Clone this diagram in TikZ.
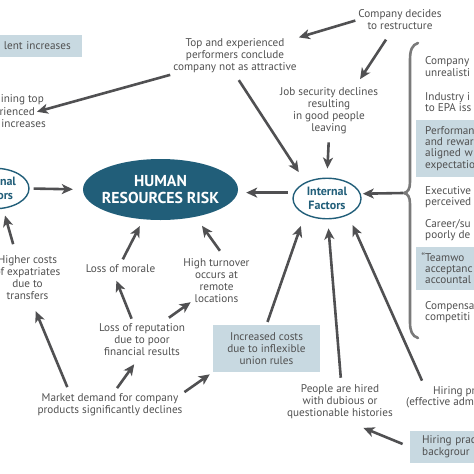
\documentclass[tikz,border=0pt]{standalone}
\usepackage{fontspec}
\setmainfont{PT Sans}
\usetikzlibrary{arrows.meta,calc,shapes.geometric}
\definecolor{txtgrey}{HTML}{505050}
\definecolor{arrgrey}{HTML}{505052}
\definecolor{boxblue}{HTML}{C8D9E1}
\definecolor{hrteal}{HTML}{215E79}
\definecolor{bracegrey}{HTML}{7A7A7A}
\tikzset{
  txt/.style={font=\fontsize{11.2}{12}\selectfont, text=txtgrey, inner sep=1pt, align=center},
  rtxt/.style={font=\fontsize{11.2}{11.2}\selectfont, text=txtgrey, inner sep=1pt, align=left, anchor=west},
  boxn/.style={txt, fill=boxblue},
  rbox/.style={rtxt, fill=boxblue, inner xsep=9pt, text width=70pt},
  ellnode/.style={ellipse, draw=hrteal, line width=1.4pt, fill=white, inner sep=0pt, minimum width=68pt, minimum height=40.5pt},
  elltxt/.style={font=\bfseries\fontsize{12}{13.3}\selectfont, text=hrteal, align=center, inner sep=0pt},
  hrell/.style={ellipse, fill=hrteal, inner sep=0pt, minimum width=155pt, minimum height=61pt},
  hrtxt/.style={font=\bfseries\fontsize{15.8}{16.5}\selectfont, text=white, align=center, inner sep=0pt},
  arr/.style={draw=arrgrey, line width=2.6pt, -{Stealth[length=11pt,width=10pt,inset=3pt]}},
  bracestyle/.style={draw=bracegrey, line width=2.6pt, line cap=round}
}
\begin{document}
\begin{tikzpicture}[x=1pt,y=-1pt]
\useasboundingbox (0,0) rectangle (474,474);
\clip (0,0) rectangle (474,474);

% left top
\node[boxn, text width=75pt, align=right, inner xsep=11pt, anchor=east, minimum height=22pt] (talent) at (82,46) {lent increases};
\node[txt, anchor=east] (ret1) at (45,100) {ining top};
\node[txt, anchor=east] (ret2) at (36,112) {rienced};
\node[txt, anchor=east] (ret3) at (47,124) {increases};

\node[txt] (top) at (235,56) {Top and experienced\\performers conclude\\company not as attractive};
\node[txt] (comp) at (400,20) {Company decides\\to restructure};
\node[txt] (job) at (329,111) {Job security declines\\resulting\\in good people\\leaving};

% ellipses
\node[ellnode, label={[elltxt]center:{Internal\\Factors}}] (int) at (327,198.5) {};
\node[ellnode, minimum width=69pt, label={[elltxt]center:{External\\Factors}}] (ext) at (-5.5,188.5) {};
\node[hrell, label={[hrtxt]center:{HUMAN\\RESOURCES RISK}}] (hr) at (160.5,189.5) {};

% lower left
\node[txt] (higher) at (27.5,278) {Higher costs\\of expatriates\\due to\\transfers};
\node[txt] (morale) at (120.5,269) {Loss of morale};
\node[txt] (turn) at (216.5,281) {High turnover\\occurs at\\remote\\locations};
\node[txt] (rep) at (142,340) {Loss of reputation\\due to poor\\financial results};
\node[txt] (market) at (110,405) {Market demand for company\\products significantly declines};
\node[boxn, minimum width=107pt, minimum height=47pt] (inc) at (266.5,348.5) {Increased costs\\due to inflexible\\union rules};
\node[txt] (people) at (340,402) {People are hired\\with dubious or\\questionable histories};
\node[txt, anchor=west] (hir1) at (432,392) {Hiring pr};
\node[txt, anchor=west] (hir2) at (405,403) {(effective adm};
\node[boxn, anchor=west, align=left, text width=70pt, inner xsep=12pt, minimum height=32pt] (hirbox) at (410,447) {Hiring prac\\backgrour};

% right column
\node[rtxt] (rc1) at (424,66.5) {Company\\unrealisti};
\node[rtxt] (rc2) at (424,102) {Industry i\\to EPA iss};
\node[rbox, minimum height=57pt] (rc3) at (416,148.5) {Performan\\and rewar\\aligned w\\expectatio};
\node[rtxt] (rc4) at (424,197) {Executive\\perceived};
\node[rtxt] (rc5) at (424,230.5) {Career/su\\poorly de};
\node[rbox, minimum height=43pt] (rc6) at (416,268.5) {\llap{“}Teamwo\\acceptanc\\accountal};
\node[rtxt] (rc7) at (424,312.5) {Compensa\\competiti};

% brace
\draw[bracestyle] (418,43) .. controls (412,45) and (410,50) .. (410,60) -- (410,182) .. controls (410,189) and (408,192) .. (404,193) .. controls (408,194) and (410,197) .. (410,204) -- (410,322) .. controls (410,331) and (412,336) .. (418,338);
\coordinate (bracetip) at (403,193);

% arrows
\draw[arr, shorten <=2pt, shorten >=1pt] (top.south west) -- (ret2.east);
\draw[arr, shorten <=2pt, shorten >=1pt] (comp.west) -- (top.north east);
\draw[arr, shorten <=10pt, shorten >=9pt] (comp.233) -- (job.43);
\draw[arr, shorten <=7pt, shorten >=9pt] (job.south) -- (int.north);
\draw[arr, shorten <=7pt, shorten >=12pt] (top.south) -- (int.143);
\draw[arr, shorten <=6pt, shorten >=8pt] (int.170) -- (hr.east |- int.170);
\draw[arr, shorten <=4pt, shorten >=10pt] (ext.east) -- (hr.west);
\draw[arr, shorten <=11pt, shorten >=7pt] (higher.116) -- (ext.293);
\draw[arr, shorten <=5pt, shorten >=7.5pt] (morale.north) -- (hr.240);
\draw[arr, shorten <=8.6pt, shorten >=11pt] (turn.70) -- (hr.322);
\draw[arr, shorten <=4.4pt, shorten >=7pt] (rep.117) -- (morale.218);
\draw[arr, shorten <=8.7pt, shorten >=-3.5pt] (rep.41) -- (turn.219);
\draw[arr, shorten <=6pt, shorten >=10.8pt] (market.163) -- (higher.280);
\draw[arr, shorten <=5.6pt, shorten >=8.7pt] (market.73) -- (rep.261);
\draw[arr, shorten <=1pt, shorten >=3.7pt] (market.north east) -- (inc.south west);
\draw[arr, shorten <=3pt, shorten >=12pt] (inc.north) -- (int.216);
\draw[arr, shorten <=6pt, shorten >=9pt] (people.86) -- (int.272);
\draw[arr, shorten >=11pt] ($(hir1.north west)+(-10,-5)$) -- (int.322);
\draw[arr, shorten <=8pt, shorten >=20pt] (hirbox.west) -- (people.285);
\draw[arr, shorten >=2pt] (bracetip) -- (int.8);
\end{tikzpicture}
\end{document}
